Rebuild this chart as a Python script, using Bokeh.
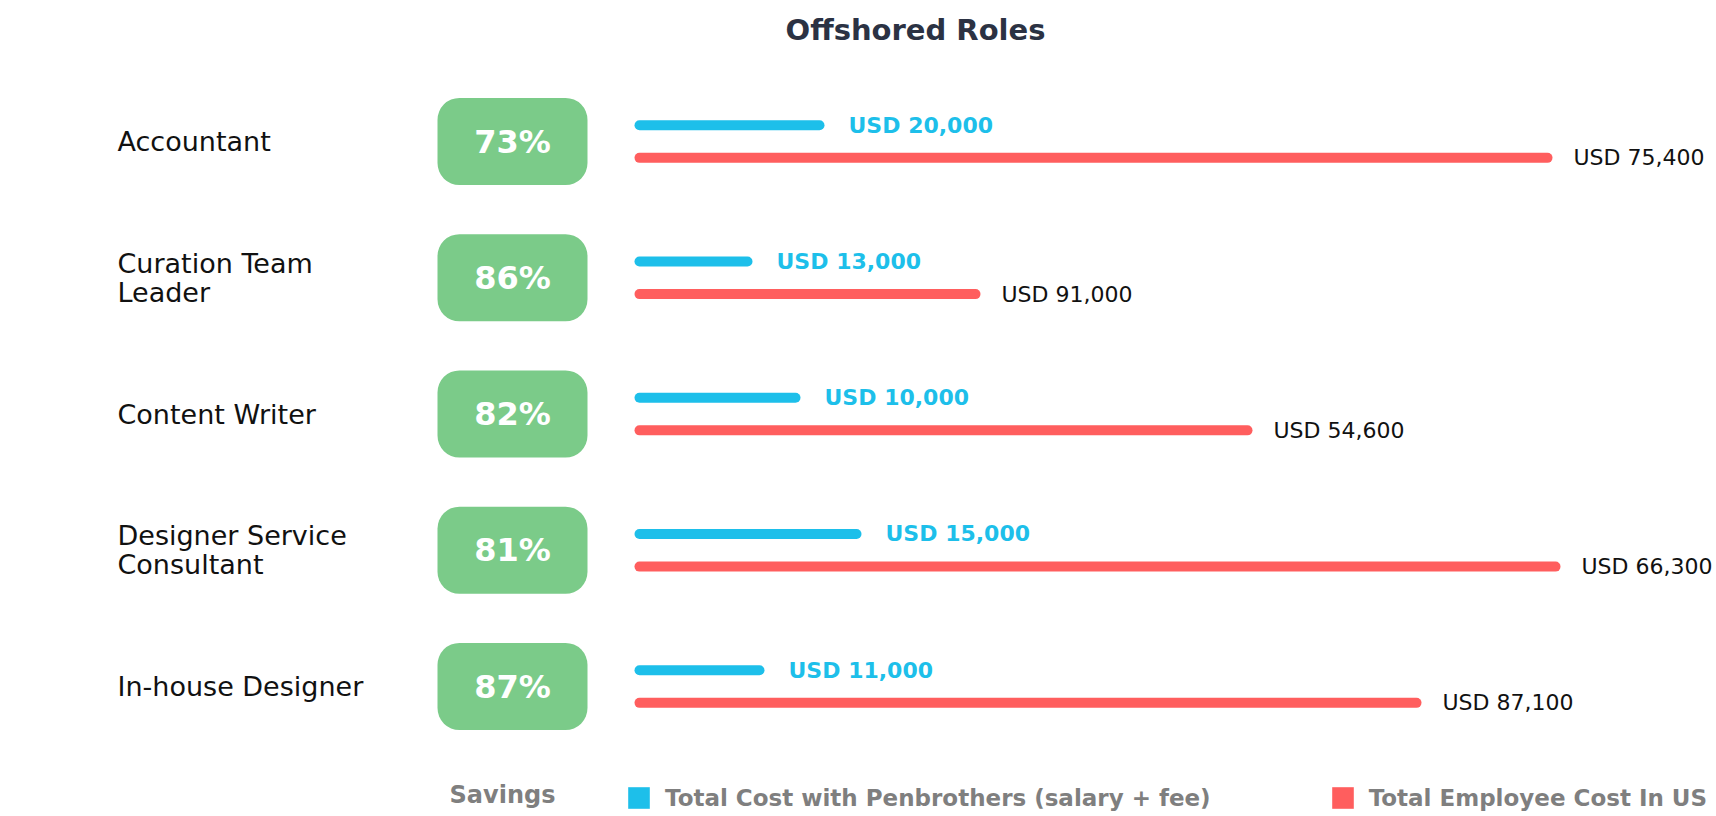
from bokeh.plotting import figure
from bokeh.models import ColumnDataSource, Range1d, Label, Legend, LegendItem
from bokeh.core.properties import value
from bokeh.embed import file_html
from bokeh.resources import INLINE

# ---- data ----
roles = ["Accountant", "Curation Team\nLeader", "Content Writer",
         "Designer Service\nConsultant", "In-house Designer"]
savings_pct = [73, 86, 82, 81, 87]
penbrothers_cost = [20000, 13000, 10000, 15000, 11000]
us_cost = [75400, 91000, 54600, 66300, 87100]
# drawn bar lengths as they appear in the source graphic (px)
penbrothers_bar_len = [190, 118, 166, 227, 130]
us_bar_len = [918, 346, 618, 926, 787]

title_text = "Offshored Roles"
legend_savings = "Savings"
legend_pb = "Total Cost with Penbrothers (salary + fee)"
legend_us = "Total Employee Cost In US"

FONT = "DejaVu Sans"
W, H = 1716, 816
BAR_START = 634
LW = 10
BLUE = "#1DBFEA"
RED = "#FF5E5E"
GREEN = "#7BCB89"

n = len(roles)
rows = list(range(n))
off = 0.12

src = ColumnDataSource(dict(
    row=rows,
    row_pb=[r - off for r in rows],
    row_us=[r + off for r in rows],
    role=roles,
    pct=[f"{v}%" for v in savings_pct],
    pb_x0=[BAR_START + LW / 2 for _ in rows],
    pb_x1=[BAR_START + l - LW / 2 for l in penbrothers_bar_len],
    us_x1=[BAR_START + l - LW / 2 for l in us_bar_len],
    pb_lx=[BAR_START + l + 24 for l in penbrothers_bar_len],
    us_lx=[BAR_START + l + 21 for l in us_bar_len],
    pb_lab=[f"USD {v:,}" for v in penbrothers_cost],
    us_lab=[f"USD {v:,}" for v in us_cost],
    box_l=[437 for _ in rows],
    box_r=[587 for _ in rows],
    box_t=[r - 0.32 for r in rows],
    box_b=[r + 0.32 for r in rows],
    box_cx=[512 for _ in rows],
))

p = figure(width=W, height=H, output_backend="svg", toolbar_location=None,
           x_range=Range1d(0, W), y_range=Range1d(4.954, -1.035),
           min_border=0, outline_line_color=None)
p.axis.visible = False
p.grid.visible = False
p.background_fill_color = "white"
p.border_fill_color = "white"

# savings boxes
p.quad(left="box_l", right="box_r", top="box_t", bottom="box_b", source=src,
       fill_color=GREEN, line_color=None, border_radius=22)
p.text(x="box_cx", y="row", text="pct", source=src, text_font=value(FONT),
       text_font_style="bold", text_font_size="32px", text_color="white",
       text_align="center", text_baseline="middle")

# role labels
p.text(x=117, y="row", text="role", source=src, text_font=value(FONT),
       text_font_size="27px", text_color="#111111", text_align="left",
       text_baseline="middle", text_line_height=0.935)

# bars
p.segment(x0="pb_x0", x1="pb_x1", y0="row_pb", y1="row_pb", source=src,
          line_color=BLUE, line_width=LW, line_cap="round")
p.segment(x0="pb_x0", x1="us_x1", y0="row_us", y1="row_us", source=src,
          line_color=RED, line_width=LW, line_cap="round")

p.text(x="pb_lx", y="row_pb", text="pb_lab", source=src, text_font=value(FONT),
       text_font_style="bold", text_font_size="22px", text_color=BLUE,
       text_align="left", text_baseline="middle")
p.text(x="us_lx", y="row_us", text="us_lab", source=src, text_font=value(FONT),
       text_font_size="22px", text_color="#111111",
       text_align="left", text_baseline="middle")

# title
p.add_layout(Label(x=915, y=H - 29, x_units="screen", y_units="screen",
                   text=title_text, text_font=FONT, text_font_style="bold",
                   text_font_size="29px", text_color="#2B3243",
                   text_align="center", text_baseline="middle"))

# legend
p.add_layout(Label(x=502, y=22, x_units="screen", y_units="screen",
                   text=legend_savings, text_font=FONT, text_font_style="bold",
                   text_font_size="24px", text_color="#7F7F7F",
                   text_align="center", text_baseline="middle"))
nan = float("nan")
dummy = ColumnDataSource(dict(l=[nan], r=[nan], t=[nan], b=[nan]))
r_pb = p.quad(left="l", right="r", top="t", bottom="b", source=dummy,
              fill_color=BLUE, line_color=None)
r_us = p.quad(left="l", right="r", top="t", bottom="b", source=dummy,
              fill_color=RED, line_color=None)
legend = Legend(items=[LegendItem(label=legend_pb, renderers=[r_pb]),
                       LegendItem(label=legend_us, renderers=[r_us])],
                orientation="horizontal", location=(625, 5),
                glyph_width=27, glyph_height=27, label_standoff=13,
                spacing=118, padding=0, margin=0,
                label_text_font=FONT, label_text_font_style="bold",
                label_text_font_size="23px", label_text_color="#7F7F7F",
                label_height=27, border_line_color=None,
                background_fill_alpha=0)
p.add_layout(legend, "center")

open("out.html", "w").write(file_html(p, INLINE))
